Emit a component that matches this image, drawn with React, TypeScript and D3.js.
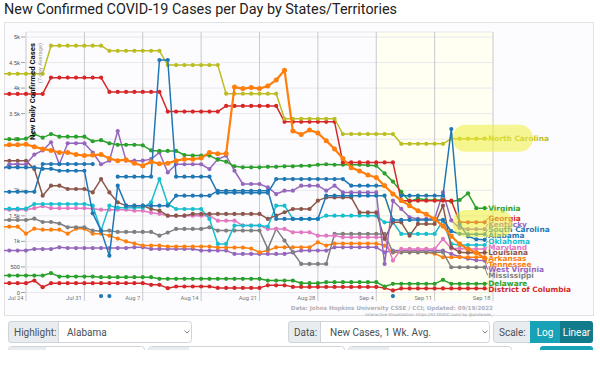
import React from 'react';
import * as d3 from 'd3';

// ---------- data ----------
const START_DATE = '2022-07-21';
const tickDateStrings = ['2022-07-24', '2022-07-31', '2022-08-07', '2022-08-14', '2022-08-21', '2022-08-28', '2022-09-04', '2022-09-11', '2022-09-18'];
const yTickValues = [0, 500, 1000, 1500, 2000, 2500, 3000, 3500, 4000, 4500, 5000];
const shadedFromDate = '2022-09-04';
const alabamaMissingDates = ['2022-08-02', '2022-08-03', '2022-09-06'];
const MISSING_MARK_VALUE = -70;

const northCarolina = [4280, 4280, 4280, 4280, 4280, 4280, 4830, 4830, 4830, 4830, 4830, 4830, 4830, 4730, 4730, 4730, 4730, 4730, 4730, 4730, 4450, 4450, 4450, 4450, 4450, 4450, 4450, 3890, 3890, 3890, 3890, 3890, 3890, 3890, 3400, 3400, 3400, 3400, 3400, 3400, 3400, 3100, 3100, 3100, 3100, 3100, 3100, 3100, 2910, 2910, 2910, 2910, 2910, 2910, 3010, 3010, 3010, 3010, 3010];
const georgia = [3886, 3886, 3886, 3886, 3886, 3886, 4205, 4205, 4205, 4205, 4205, 4205, 4205, 3926, 3926, 3926, 3926, 3926, 3926, 3926, 3541, 3541, 3541, 3541, 3541, 3541, 3541, 3652, 3652, 3652, 3652, 3652, 3652, 3652, 3340, 3340, 3340, 3340, 3340, 3340, 3340, 2545, 2545, 2545, 2545, 2545, 2545, 2545, 1797, 1797, 1797, 1797, 1797, 1797, 1797, 1373, 1373, 1373, 1373];
const virginia = [3000, 3000, 3000, 3010, 3100, 3030, 3100, 3050, 3050, 3050, 3050, 2960, 2980, 2920, 2890, 2890, 2890, 2880, 2780, 2770, 2770, 2770, 2690, 2680, 2680, 2680, 2600, 2560, 2470, 2450, 2450, 2450, 2460, 2460, 2470, 2470, 2480, 2480, 2500, 2510, 2500, 2500, 2500, 2500, 2490, 2480, 2330, 2170, 1970, 1780, 1840, 1810, 1810, 1810, 1780, 1810, 1940, 1650, 1650];
const tennessee = [2870, 2890, 2890, 2900, 2850, 2810, 2780, 2740, 2740, 2700, 2680, 2690, 2700, 2620, 2580, 2600, 2530, 2480, 2560, 2520, 2530, 2580, 2610, 2610, 2630, 2740, 2715, 2720, 4020, 3990, 4010, 3990, 4040, 4160, 4350, 3160, 3090, 3180, 3120, 2970, 2810, 2620, 2440, 2380, 2300, 2250, 2090, 1930, 1800, 1700, 1600, 1530, 1440, 1300, 1100, 950, 850, 780, 670];
const kentucky = [2383, 2510, 2510, 2510, 2700, 2780, 2940, 2510, 2920, 2920, 2920, 2740, 2510, 2580, 3160, 2580, 2580, 2580, 2610, 2740, 2350, 2510, 2510, 2510, 2510, 2415, 2610, 2676, 2383, 2123, 2123, 2123, 2057, 1927, 1992, 1992, 2090, 2090, 2090, 1992, 2090, 1959, 1959, 1959, 1959, 1959, 560, 1797, 1635, 1471, 1440, 1440, 1440, 1959, 1410, 1260, 1240, 1240, 1240];
const westVirginia = [820, 820, 820, 820, 850, 850, 850, 885, 870, 870, 870, 870, 870, 870, 870, 870, 885, 885, 853, 853, 853, 853, 853, 853, 820, 820, 820, 820, 755, 755, 755, 755, 755, 755, 755, 787, 820, 820, 820, 820, 885, 885, 885, 885, 885, 885, 787, 820, 820, 820, 820, 820, 820, 820, 755, 700, 660, 630, 625];
const arkansas = [1289, 1289, 1289, 1152, 1250, 1230, 1230, 1230, 1152, 1250, 1250, 1152, 1152, 1113, 1055, 1000, 957, 918, 918, 918, 900, 898, 898, 898, 898, 898, 880, 880, 880, 880, 860, 787, 820, 885, 885, 885, 885, 885, 982, 918, 957, 957, 957, 957, 957, 957, 918, 787, 787, 787, 787, 787, 760, 690, 690, 690, 690, 690, 690];
const mississippi = [1419, 1419, 1419, 1419, 1445, 1380, 1380, 1350, 1276, 1276, 1276, 1211, 1200, 1211, 1185, 1185, 1185, 1185, 1185, 1113, 1172, 1244, 1244, 1244, 1244, 1276, 1211, 1211, 1211, 1211, 1211, 1211, 853, 1244, 1016, 787, 560, 560, 560, 560, 1146, 1146, 1146, 1146, 1146, 1146, 1146, 787, 787, 787, 787, 787, 787, 787, 494, 494, 494, 494, 494];
const maryland = [1620, 1620, 1620, 1620, 1650, 1690, 1650, 1650, 1650, 1650, 1650, 1640, 1620, 1620, 1620, 1620, 1600, 1600, 1560, 1540, 1504, 1504, 1504, 1504, 1504, 1504, 1406, 1406, 1406, 1309, 1309, 1309, 1244, 1244, 1244, 1178, 1178, 1178, 1113, 1113, 1113, 1080, 1080, 1080, 1080, 1080, 1080, 625, 853, 853, 853, 853, 853, 1048, 860, 860, 850, 850, 850];
const oklahoma = [1640, 1640, 1640, 1640, 1732, 1732, 1732, 1732, 1732, 1732, 1732, 1699, 1211, 1700, 1660, 1660, 1660, 1660, 1765, 2220, 1732, 1634, 1634, 1634, 1634, 1440, 951, 951, 1309, 1309, 1309, 1309, 1290, 1699, 1699, 1440, 1440, 1440, 1440, 1504, 1504, 1504, 1504, 1504, 1504, 1504, 1373, 1373, 1146, 1146, 1146, 1146, 1146, 1406, 951, 930, 930, 930, 930];
const louisiana = [2578, 2578, 2578, 2578, 2415, 1895, 2090, 2090, 2025, 2025, 2025, 1959, 2220, 1959, 1764, 1700, 1700, 1700, 1634, 1602, 1504, 1504, 1504, 1537, 1537, 1537, 1537, 1537, 1537, 1537, 1537, 1537, 1440, 1504, 1570, 1634, 1634, 1634, 1797, 1861, 1861, 1861, 1861, 1568, 1568, 1568, 1048, 1373, 1373, 1113, 1341, 1341, 1341, 1700, 885, 790, 780, 780, 780];
const alabama = [1970, 1970, 1970, 1970, 1970, 2513, 2513, 2513, 2513, 2513, 2513, 2513, null, null, 2266, 2266, 2266, 2266, 2266, 4550, 4550, 2266, 2266, 2266, 2266, 2266, 1950, 1950, 1950, 1950, 1950, 1950, 1950, 2220, 2220, 2220, 2220, 2220, 2220, 2220, 2220, 2220, 2090, 2090, 2090, 2090, 2090, null, 1895, 1895, 1895, 1895, 1895, 1895, 3200, 1330, 1100, 1040, 1030];
const southCarolina = [2447, 2447, 2447, 2447, 2447, 2420, 2420, 2383, 2383, 2383, 2383, 1550, 1211, 720, 2090, 1700, 1700, 1700, 1700, 1700, 1700, 1895, 1895, 1895, 1895, 1895, 1990, 1990, 1990, 1990, 1990, 1990, 1990, 1440, 1440, 1440, 1440, 1440, 1440, 1895, 1895, 1895, 1895, 1895, 1895, 1895, 1895, 1420, 1420, 1420, 1420, 1420, 1420, 1420, 1200, 1150, 1140, 1140, 1140];
const delaware = [332, 332, 332, 332, 332, 332, 380, 312, 312, 312, 312, 312, 300, 300, 300, 300, 300, 300, 300, 267, 267, 267, 267, 267, 267, 267, 267, 267, 267, 267, 267, 267, 234, 234, 234, 234, 182, 182, 182, 202, 202, 202, 202, 202, 202, 202, 117, 169, 169, 169, 169, 169, 169, 248, 169, 169, 169, 169, 169];
const districtOfColumbia = [182, 182, 182, 182, 234, 104, 182, 182, 182, 182, 182, 182, 182, 182, 182, 182, 182, 182, 150, 150, 85, 117, 117, 117, 117, 117, 90, 90, 90, 90, 90, 90, 140, 140, 140, 110, 110, 110, 110, 110, 110, 110, 110, 110, 110, 110, 90, 40, 80, 80, 80, 80, 80, 80, 80, 80, 80, 80, 80];

// drawing order (bottom -> top)
const seriesTable = [
  { name: 'District of Columbia', color: '#d62728', values: districtOfColumbia },
  { name: 'Delaware', color: '#2ca02c', values: delaware },
  { name: 'West Virginia', color: '#9467bd', values: westVirginia },
  { name: 'Arkansas', color: '#ff7f0e', values: arkansas },
  { name: 'Mississippi', color: '#7f7f7f', values: mississippi },
  { name: 'Maryland', color: '#e377c2', values: maryland },
  { name: 'Oklahoma', color: '#17becf', values: oklahoma },
  { name: 'Louisiana', color: '#8c564b', values: louisiana },
  { name: 'Kentucky', color: '#9467bd', values: kentucky },
  { name: 'South Carolina', color: '#1f77b4', values: southCarolina },
  { name: 'Virginia', color: '#2ca02c', values: virginia },
  { name: 'Georgia', color: '#d62728', values: georgia },
  { name: 'North Carolina', color: '#bcbd22', values: northCarolina },
  { name: 'Alabama', color: '#1f77b4', values: alabama },
  { name: 'Tennessee', color: '#ff7f0e', values: tennessee, thick: true },
];
const highlightedLabels = ['North Carolina', 'Kentucky'];

const W = 600;
const H = 386;

export default function App() {
  const parse = d3.utcParse('%Y-%m-%d');
  const start = parse(START_DATE) as Date;
  const nDays = northCarolina.length;
  const dates = d3.range(nDays).map((i) => d3.utcDay.offset(start, i));
  const tickDates = tickDateStrings.map((s) => parse(s) as Date);

  const x = d3.scaleUtc().domain([tickDates[0], tickDates[tickDates.length - 1]]).range([26, 493]);
  const y = d3.scaleLinear().domain([0, 5000]).range([292.5, 37]);

  const plotLeft = x(tickDates[0]);
  const plotRight = x(tickDates[tickDates.length - 1]);
  const plotTop = 32;
  const fmtX = d3.utcFormat('%b %-d');
  const fmtY = (v: number) => (v >= 1000 ? `${v / 1000}k` : `${v}`);

  const line = d3
    .line<number | null>()
    .defined((v) => v != null)
    .x((_, i) => x(dates[i]))
    .y((v) => y(v as number));

  // label placement
  const lastX = x(dates[nDays - 1]);
  const labelX = lastX + 3.5;
  const labels = seriesTable.map((s) => {
    const last = s.values[s.values.length - 1] as number;
    return { name: s.name, color: s.color, yData: y(last), yLab: y(last) };
  });
  labels.sort((a, b) => a.yData - b.yData);
  const SP = 5.7;
  for (let it = 0; it < 400; it++) {
    for (let i = 1; i < labels.length; i++) {
      const gap = labels[i].yLab - labels[i - 1].yLab;
      if (gap < SP) {
        const s = (SP - gap) / 2;
        labels[i - 1].yLab -= s;
        labels[i].yLab += s;
      }
    }
  }
  const labelByName: Record<string, (typeof labels)[number]> = {};
  labels.forEach((l) => (labelByName[l.name] = l));

  const shadeX = x(parse(shadedFromDate) as Date);
  const missing = alabamaMissingDates.map((s) => parse(s) as Date);

  const ctrlY = 321;
  const ctrlH = 21;
  const ctrlFont = { fontFamily: 'Roboto, sans-serif', fontSize: 10, fill: '#495057' } as const;

  return (
    <svg width={W} height={H} style={{ position: 'absolute', left: 0, top: 0, background: '#fff' }}>
      <defs>
        <clipPath id="plotClip">
          <rect x={4} y={plotTop} width={plotRight - 4 + 0.5} height={300 - plotTop} />
        </clipPath>
      </defs>

      {/* title */}
      <text x={4} y={13.5} style={{ fontFamily: 'Roboto, sans-serif', fontSize: 14.4, fill: '#222' }}>
        New Confirmed COVID-19 Cases per Day by States/Territories
      </text>

      {/* panel */}
      <rect x={4.5} y={22.5} width={589} height={293} fill="#fcfcfe" stroke="#e2e2e6" />
      <rect x={shadeX} y={plotTop} width={plotRight - shadeX} height={300 - plotTop} fill="#fffff2" />

      {/* horizontal grid */}
      {yTickValues.map((v) => (
        <line key={v} x1={plotLeft} x2={plotRight} y1={y(v)} y2={y(v)} stroke="#e8e8ee" strokeWidth={1} />
      ))}
      <line x1={plotLeft} x2={plotRight} y1={plotTop} y2={plotTop} stroke="#e8e8ee" />

      {/* vertical grid + x labels */}
      {tickDates.map((d, i) => (
        <g key={i}>
          <line x1={x(d)} x2={x(d)} y1={plotTop} y2={301} stroke="#c9c9cc" strokeWidth={1} />
          <text x={x(d) - 2.5} y={300} textAnchor="end" style={{ fontFamily: 'Roboto, sans-serif', fontSize: 5.8, fill: '#777' }}>
            {fmtX(d)}
          </text>
        </g>
      ))}

      {/* y ticks */}
      {yTickValues.map((v) => (
        <g key={v}>
          <line x1={21} x2={25} y1={y(v)} y2={y(v)} stroke="#888" strokeWidth={0.8} />
          <text x={20} y={y(v) + 2} textAnchor="end" style={{ fontFamily: 'Roboto, sans-serif', fontSize: 5.8, fill: '#555' }}>
            {fmtY(v)}
          </text>
        </g>
      ))}

      {/* series */}
      <g clipPath="url(#plotClip)">
        {seriesTable.map((s) => (
          <g key={s.name}>
            <path d={line(s.values) || ''} fill="none" stroke={s.color} strokeWidth={s.thick ? 2.2 : 1.5} strokeLinejoin="round" />
            {s.values.map((v, i) =>
              v == null ? null : <circle key={i} cx={x(dates[i])} cy={y(v)} r={s.thick ? 2.5 : 2.1} fill={s.color} />
            )}
          </g>
        ))}
      </g>
      {missing.map((d, i) => (
        <circle key={i} cx={x(d)} cy={y(MISSING_MARK_VALUE)} r={2.1} fill="#1f77b4" />
      ))}

      {/* y axis title */}
      <text transform={`translate(35,43) rotate(-90)`} textAnchor="end" style={{ fontFamily: 'Roboto, sans-serif', fontSize: 7.8, fontWeight: 700, fill: '#111' }}>
        New Daily Confirmed Cases
      </text>
      <text transform={`translate(41.5,43) rotate(-90)`} textAnchor="end" style={{ fontFamily: 'Roboto, sans-serif', fontSize: 5.8, fill: '#999' }}>
        (7-day Average)
      </text>

      {/* labels */}
      {labels.map((l) => (
        <g key={l.name}>
          <line x1={lastX} y1={l.yData} x2={labelX - 0.5} y2={l.yLab} stroke={l.color} strokeWidth={1} />
          <text x={labelX} y={l.yLab} dy="0.36em" style={{ fontFamily: 'DejaVu Sans, sans-serif', fontSize: 7.4, fontWeight: 700, fill: l.color }}>
            {l.name}
          </text>
        </g>
      ))}

      {/* highlight blobs */}
      {highlightedLabels.map((n, i) => {
        const l = labelByName[n];
        const w = i === 0 ? 80 : 60;
        return <rect key={n} x={lastX - 32} y={l.yLab - 14} width={w} height={27} rx={13} fill="#eeee3c" opacity={0.55} />;
      })}

      {/* credits */}
      <text x={493} y={310} textAnchor="end" style={{ fontFamily: 'DejaVu Sans, sans-serif', fontSize: 5.6, fontWeight: 700, fill: '#b0b0b4' }}>
        Data: Johns Hopkins University CSSE / CCI; Updated: 09/19/2022
      </text>
      <text x={493} y={315.5} textAnchor="end" style={{ fontFamily: 'DejaVu Sans, sans-serif', fontSize: 4, fill: '#999' }}>
        Interactive Visualization: https://91-DIVOC.com/ by @profwade_
      </text>

      {/* controls row 1 */}
      <rect x={8.5} y={ctrlY + 0.5} width={183} height={ctrlH} rx={3} fill="#fff" stroke="#ced4da" />
      <path d={`M11.5,${ctrlY + 0.5} H58.5 V${ctrlY + ctrlH + 0.5} H11.5 A3,3 0 0 1 8.5,${ctrlY + ctrlH - 2.5} V${ctrlY + 3.5} A3,3 0 0 1 11.5,${ctrlY + 0.5} Z`} fill="#e9ecef" stroke="#ced4da" />
      <text x={14} y={ctrlY + 14.5} style={ctrlFont}>Highlight:</text>
      <text x={67} y={ctrlY + 14.5} style={ctrlFont}>Alabama</text>
      <path d={`M184.5,${ctrlY + 9.5} L187,${ctrlY + 12} L189.5,${ctrlY + 9.5}`} fill="none" stroke="#777" strokeWidth={0.9} />

      <rect x={288.5} y={ctrlY + 0.5} width={201} height={ctrlH} rx={3} fill="#fff" stroke="#ced4da" />
      <path d={`M291.5,${ctrlY + 0.5} H320.5 V${ctrlY + ctrlH + 0.5} H291.5 A3,3 0 0 1 288.5,${ctrlY + ctrlH - 2.5} V${ctrlY + 3.5} A3,3 0 0 1 291.5,${ctrlY + 0.5} Z`} fill="#e9ecef" stroke="#ced4da" />
      <text x={294} y={ctrlY + 14.5} style={ctrlFont}>Data:</text>
      <text x={330} y={ctrlY + 14.5} style={ctrlFont}>New Cases, 1 Wk. Avg.</text>
      <path d={`M482.5,${ctrlY + 9.5} L485,${ctrlY + 12} L487.5,${ctrlY + 9.5}`} fill="none" stroke="#777" strokeWidth={0.9} />

      <rect x={493.5} y={ctrlY + 0.5} width={99} height={ctrlH} rx={3} fill="#e9ecef" stroke="#ced4da" />
      <text x={499} y={ctrlY + 14.5} style={ctrlFont}>Scale:</text>
      <rect x={530} y={ctrlY} width={30} height={ctrlH + 1} fill="#17a2b8" />
      <path d={`M560,${ctrlY} H590 A3,3 0 0 1 593,${ctrlY + 3} V${ctrlY + ctrlH - 2} A3,3 0 0 1 590,${ctrlY + ctrlH + 1} H560 Z`} fill="#117a8b" />
      <text x={545} y={ctrlY + 14.5} textAnchor="middle" style={{ ...ctrlFont, fill: '#fff' }}>Log</text>
      <text x={576.5} y={ctrlY + 14.5} textAnchor="middle" style={{ ...ctrlFont, fill: '#fff' }}>Linear</text>

      {/* controls row 2 (cut off) */}
      <g>
        <rect x={8.5} y={346.5} width={136} height={12} rx={3} fill="#fff" stroke="#ced4da" />
        <rect x={9} y={347} width={37} height={11} fill="#e9ecef" />
        <rect x={148.5} y={346.5} width={196} height={12} rx={3} fill="#fff" stroke="#ced4da" />
        <rect x={149} y={347} width={40} height={11} fill="#e9ecef" />
        <rect x={348.5} y={346.5} width={163} height={12} rx={3} fill="#fff" stroke="#ced4da" />
        <rect x={349} y={347} width={40} height={11} fill="#e9ecef" />
        <rect x={540} y={346} width={53} height={13} rx={3} fill="#17a2b8" />
        <rect x={0} y={350} width={W} height={H - 350} fill="#fff" />
      </g>
    </svg>
  );
}
